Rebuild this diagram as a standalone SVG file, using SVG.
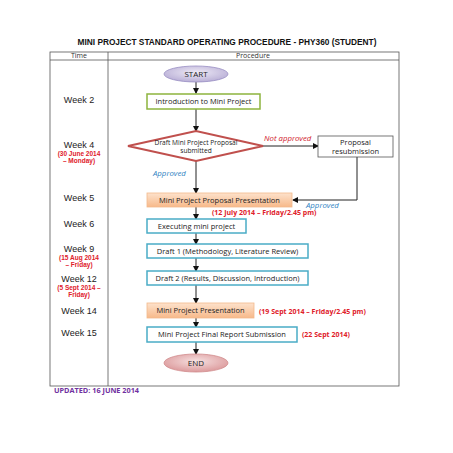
<svg xmlns="http://www.w3.org/2000/svg" width="453" height="453" viewBox="0 0 453 453">
<defs>
<marker id="ah" markerWidth="6" markerHeight="6" refX="5" refY="3" orient="auto" markerUnits="userSpaceOnUse">
<path d="M0,0 L6,3 L0,6 Z" fill="#111"/>
</marker>
<linearGradient id="og" x1="0" y1="0" x2="0" y2="1">
<stop offset="0" stop-color="#fde2cc"/><stop offset="1" stop-color="#f7b98a"/>
</linearGradient>
<radialGradient id="sg" cx="0.5" cy="0.4" r="0.6">
<stop offset="0" stop-color="#eeeaf6"/><stop offset="1" stop-color="#b9afd6"/>
</radialGradient>
<radialGradient id="eg" cx="0.5" cy="0.4" r="0.6">
<stop offset="0" stop-color="#f6e0e0"/><stop offset="1" stop-color="#dc9a9c"/>
</radialGradient>
</defs>
<style>
text{font-family:"Open Sans","Liberation Sans",sans-serif}
.t{font-size:7.5px;fill:#222}
.wk{font-family:"Liberation Sans",sans-serif;font-size:9px;fill:#222;text-anchor:middle}
.rd{font-size:7px;fill:#e0202a;font-weight:bold}
.rdc{font-family:"Liberation Sans",sans-serif;font-size:6.5px;fill:#e0202a;font-weight:bold;text-anchor:middle}
.ap{font-size:7.8px;fill:#2e7fc2;font-style:italic}
.na{font-size:7.8px;fill:#d0202a;font-style:italic}
.bx{fill:#fff;stroke-width:1.5}
.ln{stroke:#222;stroke-width:1;fill:none}
</style>
<rect width="453" height="453" fill="#fff"/>
<text x="227" y="45" text-anchor="middle" style="font-family:'Liberation Sans',sans-serif;font-size:8.3px;font-weight:bold;fill:#111">MINI PROJECT STANDARD OPERATING PROCEDURE - PHY360 (STUDENT)</text>
<g id="table" fill="none" stroke="#555" stroke-width="0.8">
<rect x="50" y="52" width="349" height="334"/>
<line x1="108" y1="52" x2="108" y2="386"/>
<line x1="50" y1="60" x2="399" y2="60"/>
</g>
<text x="79" y="58.3" text-anchor="middle" style="font-size:7px;fill:#333">Time</text>
<text x="253" y="58.3" text-anchor="middle" style="font-size:7px;fill:#333">Procedure</text>
<g id="times">
<text class="wk" x="79" y="103">Week 2</text>
<text class="wk" x="79" y="147.5">Week 4</text>
<text class="rdc" x="79" y="155.5">(30 June 2014</text>
<text class="rdc" x="79" y="163">– Monday)</text>
<text class="wk" x="79" y="201">Week 5</text>
<text class="wk" x="79" y="227">Week 6</text>
<text class="wk" x="79" y="251.5">Week 9</text>
<text class="rdc" x="79" y="259.5">(15 Aug 2014</text>
<text class="rdc" x="79" y="267">– Friday)</text>
<text class="wk" x="79" y="281.5">Week 12</text>
<text class="rdc" x="79" y="289.5">(5 Sept 2014 –</text>
<text class="rdc" x="79" y="297">Friday)</text>
<text class="wk" x="79" y="314">Week 14</text>
<text class="wk" x="79" y="336">Week 15</text>
</g>
<g id="connectors">
<line class="ln" x1="196" y1="82" x2="196" y2="93" marker-end="url(#ah)"/>
<line class="ln" x1="196" y1="109" x2="196" y2="131" marker-end="url(#ah)"/>
<line class="ln" x1="263" y1="146" x2="318" y2="146" marker-end="url(#ah)"/>
<line class="ln" x1="196" y1="161" x2="196" y2="193" marker-end="url(#ah)"/>
<polyline class="ln" points="357,157 357,200 293,200" marker-end="url(#ah)"/>
<line class="ln" x1="196" y1="207" x2="196" y2="219" marker-end="url(#ah)"/>
<line class="ln" x1="196" y1="233" x2="196" y2="244" marker-end="url(#ah)"/>
<line class="ln" x1="196" y1="258" x2="196" y2="271" marker-end="url(#ah)"/>
<line class="ln" x1="196" y1="285" x2="196" y2="303" marker-end="url(#ah)"/>
<line class="ln" x1="196" y1="318" x2="196" y2="327" marker-end="url(#ah)"/>
<line class="ln" x1="196" y1="342" x2="196" y2="354" marker-end="url(#ah)"/>
<text class="na" x="264" y="141">Not approved</text>
<text class="ap" x="153" y="176">Approved</text>
<text class="ap" x="306" y="208">Approved</text>
</g>
<g id="start">
<ellipse cx="196" cy="74" rx="32" ry="8" fill="url(#sg)" stroke="#9a90c4" stroke-width="0.8"/>
<text x="196" y="77" text-anchor="middle" style="font-size:8px;fill:#222">START</text>
</g>
<g id="intro">
<rect class="bx" x="147" y="94" width="113" height="15" stroke="#8db43e"/>
<text class="t" x="203.5" y="104.3" text-anchor="middle">Introduction to Mini Project</text>
</g>
<g id="decision">
<polygon points="128,146 196,131 263,146 196,161" fill="#fff" stroke="#c0504d" stroke-width="2"/>
<text x="196" y="145" text-anchor="middle" style="font-size:6.6px;fill:#222">Draft Mini Project Proposal</text>
<text x="196" y="153" text-anchor="middle" style="font-size:6.6px;fill:#222">submitted</text>
</g>
<g id="resubmission">
<rect x="318" y="136" width="75" height="21" fill="#fff" stroke="#555" stroke-width="0.8"/>
<text class="t" x="355.5" y="145" text-anchor="middle">Proposal</text>
<text class="t" x="355.5" y="153.5" text-anchor="middle">resubmission</text>
</g>
<g id="proposal">
<rect x="147" y="193" width="145" height="14" fill="url(#og)" stroke="#f3b98c" stroke-width="0.8"/>
<text class="t" x="219.5" y="202.7" text-anchor="middle">Mini Project Proposal Presentation</text>
<text class="rd" x="212" y="215">(12 July 2014 – Friday/2.45 pm)</text>
</g>
<g id="executing">
<rect class="bx" x="147" y="219" width="99" height="14" stroke="#4aacc6"/>
<text class="t" x="196.5" y="228.7" text-anchor="middle">Executing mini project</text>
</g>
<g id="draft1">
<rect class="bx" x="147" y="244" width="161" height="14" stroke="#4aacc6"/>
<text class="t" x="227.5" y="253.7" text-anchor="middle">Draft 1 (Methodology, Literature Review)</text>
</g>
<g id="draft2">
<rect class="bx" x="147" y="271" width="161" height="14" stroke="#4aacc6"/>
<text class="t" x="227.5" y="280.7" text-anchor="middle">Draft 2 (Results, Discussion, Introduction)</text>
</g>
<g id="presentation">
<rect x="147" y="303" width="107" height="15" fill="url(#og)" stroke="#f3b98c" stroke-width="0.8"/>
<text class="t" x="200.5" y="312.7" text-anchor="middle">Mini Project Presentation</text>
<text class="rd" x="259" y="313.5">(19 Sept 2014 – Friday/2.45 pm)</text>
</g>
<g id="final">
<rect class="bx" x="147" y="327" width="150" height="15" stroke="#4aacc6"/>
<text class="t" x="222" y="337.2" text-anchor="middle">Mini Project Final Report Submission</text>
<text class="rd" x="302" y="337">(22 Sept 2014)</text>
</g>
<g id="end">
<ellipse cx="196" cy="363" rx="32" ry="9" fill="url(#eg)" stroke="#d08a8c" stroke-width="0.8"/>
<text x="196" y="366" text-anchor="middle" style="font-size:8px;fill:#222">END</text>
</g>
<text x="54" y="392.5" style="font-size:7.3px;font-weight:bold;fill:#7030a0">UPDATED: 16 JUNE 2014</text>
</svg>
